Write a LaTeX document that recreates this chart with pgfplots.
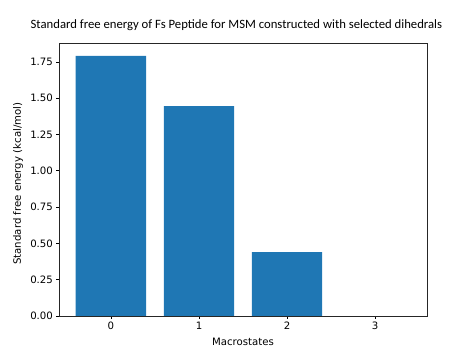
\documentclass[border=0pt]{standalone}
\usepackage{fontspec}
\setmainfont{DejaVu Sans}
\newfontfamily\titlefont{Carlito}
\usepackage{pgfplots}
\pgfplotsset{compat=1.18}
\definecolor{mplblue}{HTML}{1F77B4}
\begin{document}
\begin{tikzpicture}
\path[use as bounding box] (0,0) rectangle (474bp,355bp);
\begin{axis}[
  at={(59bp,39bp)}, anchor=south west,
  scale only axis, width=368bp, height=273bp,
  xmin=-0.59, xmax=3.59, ymin=0, ymax=1.8795,
  ybar, bar width=0.8, bar shift=0pt,
  xtick={0,1,2,3},
  ytick={0,0.25,0.5,0.75,1,1.25,1.5,1.75},
  yticklabel style={/pgf/number format/.cd,fixed,fixed zerofill,precision=2},
  /pgf/number format/assume math mode=true,
  tick align=outside, xtick pos=left, ytick pos=left,
  major tick length=2.6bp,
  every tick/.style={black, line width=0.6pt},
  axis line style={line width=0.6pt, black!85},
  tick label style={font=\fontsize{10.2}{12}\selectfont},
  label style={font=\fontsize{10.2}{12}\selectfont},
  xlabel={Macrostates},
  ylabel={Standard free energy (kcal/mol)},
  xlabel style={at={(axis description cs:0.5,-0.094)}, anchor=center},
  ylabel style={at={(axis description cs:-0.111,0.485)}, anchor=center},
  title={Standard free energy of Fs Peptide for MSM constructed with selected dihedrals},
  title style={font=\titlefont\fontsize{12.75}{14}\selectfont, at={(axis description cs:0.482,1.044)}, anchor=center},
]
\addplot[fill=mplblue, draw=none] coordinates {(0,1.79) (1,1.445) (2,0.44) (3,0.0)};
\end{axis}
\end{tikzpicture}
\end{document}
